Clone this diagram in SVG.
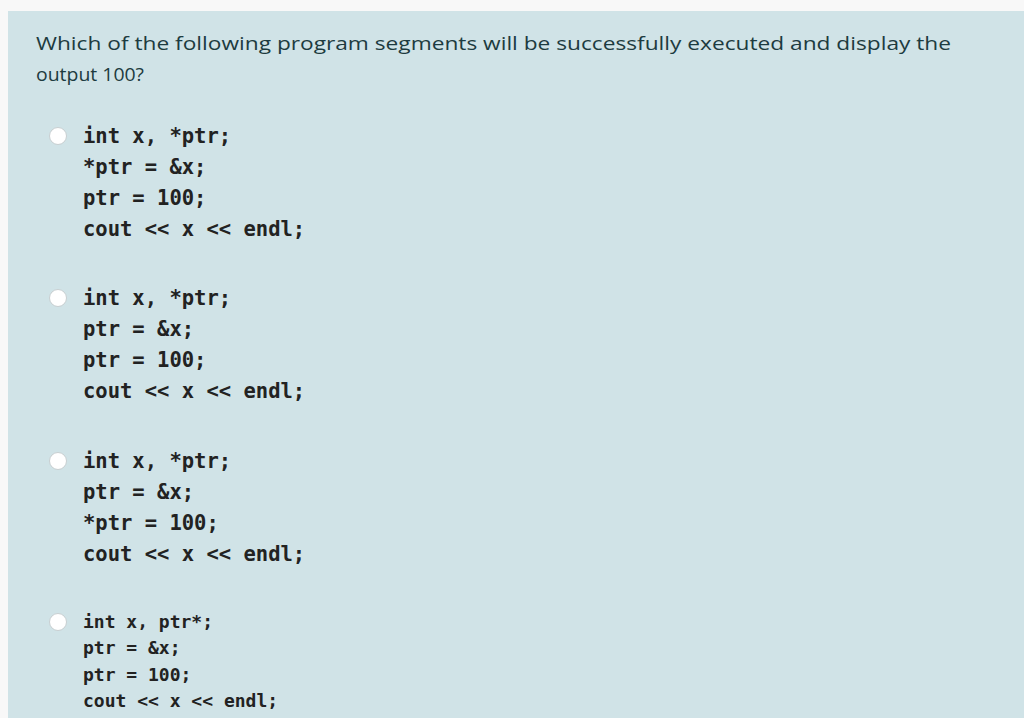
<svg xmlns="http://www.w3.org/2000/svg" width="1024" height="718" viewBox="0 0 1024 718">
<style>
.q{font-family:"Open Sans","Liberation Sans",sans-serif;font-size:19px;fill:#1d3b40}
.c{font-family:"DejaVu Sans Mono","Liberation Mono",monospace;font-size:20.5px;font-weight:bold;fill:#222}
.s{font-family:"DejaVu Sans Mono","Liberation Mono",monospace;font-size:18px;font-weight:bold;fill:#222}
.r{fill:#fff;stroke:#c8cfd1;stroke-width:1}
</style>
<rect width="1024" height="718" fill="#f8f8f8"/>
<rect x="8" y="11" width="1016" height="707" fill="#d0e3e7"/>
<text class="q" x="36" y="50" textLength="915" lengthAdjust="spacingAndGlyphs">Which of the following program segments will be successfully executed and display the</text>
<text class="q" x="36" y="81" textLength="108" lengthAdjust="spacingAndGlyphs">output 100?</text>
<g id="opt1"><circle class="r" cx="58" cy="136" r="8.5"/>
<text class="c" x="83" y="143">int x, *ptr;</text><text class="c" x="83" y="174">*ptr = &amp;x;</text><text class="c" x="83" y="205">ptr = 100;</text><text class="c" x="83" y="236">cout &lt;&lt; x &lt;&lt; endl;</text></g>
<g id="opt2"><circle class="r" cx="58" cy="298" r="8.5"/>
<text class="c" x="83" y="305">int x, *ptr;</text><text class="c" x="83" y="336">ptr = &amp;x;</text><text class="c" x="83" y="367">ptr = 100;</text><text class="c" x="83" y="398">cout &lt;&lt; x &lt;&lt; endl;</text></g>
<g id="opt3"><circle class="r" cx="58" cy="461" r="8.5"/>
<text class="c" x="83" y="468">int x, *ptr;</text><text class="c" x="83" y="499">ptr = &amp;x;</text><text class="c" x="83" y="530">*ptr = 100;</text><text class="c" x="83" y="561">cout &lt;&lt; x &lt;&lt; endl;</text></g>
<g id="opt4"><circle class="r" cx="58" cy="622" r="8.5"/>
<text class="s" x="83" y="628">int x, ptr*;</text><text class="s" x="83" y="654">ptr = &amp;x;</text><text class="s" x="83" y="681">ptr = 100;</text><text class="s" x="83" y="707">cout &lt;&lt; x &lt;&lt; endl;</text></g>
</svg>
